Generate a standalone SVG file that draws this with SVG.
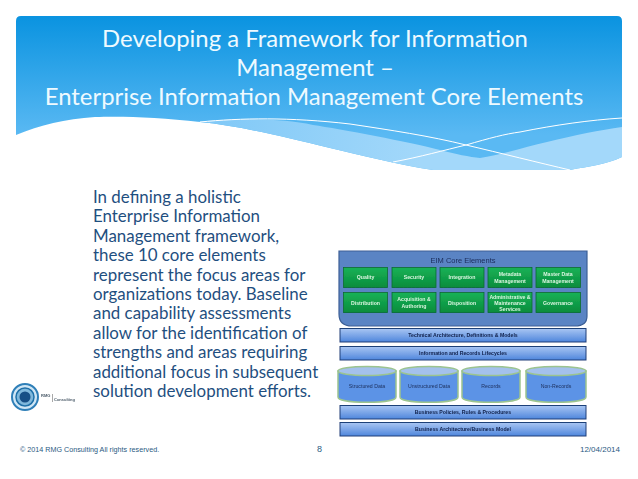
<svg xmlns="http://www.w3.org/2000/svg" width="638" height="479" viewBox="0 0 638 479">
<defs>
<linearGradient id="sky" gradientUnits="userSpaceOnUse" x1="0" y1="16" x2="0" y2="135"><stop offset="0" stop-color="#0a93e0"/><stop offset="1" stop-color="#5ab9f3"/></linearGradient>
<linearGradient id="wedge" gradientUnits="userSpaceOnUse" x1="200" y1="120" x2="420" y2="165"><stop offset="0" stop-color="#7fc8f7"/><stop offset="1" stop-color="#a3d8fa"/></linearGradient>
<linearGradient id="green" x1="0" y1="0" x2="0" y2="1"><stop offset="0" stop-color="#17b257"/><stop offset="1" stop-color="#0b8c3c"/></linearGradient>
<linearGradient id="bar" x1="0" y1="0" x2="0" y2="1"><stop offset="0" stop-color="#a9c6f3"/><stop offset="1" stop-color="#4f86dc"/></linearGradient>
<clipPath id="banner"><path d="M21 16H617Q622 16 622 21V157C605 165 590 166 570 170H433C400 165 360 155 330 148C280 136 240 126 200 122C160 117 120 116 95 117C65 119 40 125 16 135V21Q16 16 21 16Z"/></clipPath>
<filter id="soft" x="-5%" y="-5%" width="110%" height="110%"><feGaussianBlur stdDeviation="0.45"/></filter>
</defs>
<style>
.title{font-family:"Lato","Open Sans",sans-serif;font-size:23.9px;fill:#eefaff;text-anchor:middle}
.body{font-family:"Lato","Open Sans",sans-serif;font-size:16.9px;fill:#1f4f80}
.foot{font-family:"Liberation Sans",Arial,sans-serif;font-size:7.2px;fill:#2a5a82}
.g{fill:url(#green);stroke:#0a6b30;stroke-width:.8}
.gt{font-family:"Liberation Sans",Arial,sans-serif;font-size:5.2px;font-weight:bold;fill:#d9f5df;text-anchor:middle}
.b{fill:url(#bar);stroke:#1f3f78;stroke-width:1}
.bt{font-family:"Liberation Sans",Arial,sans-serif;font-size:5.2px;font-weight:bold;fill:#10204a;text-anchor:middle}
.cy{fill:#5c93e6;stroke:#9cc48f;stroke-width:1.5}
.ct{fill:#a4c1ec;stroke:#9cc48f;stroke-width:1.5}
.dt{font-family:"Liberation Sans",Arial,sans-serif;font-size:5.2px;fill:#1c2f5c;text-anchor:middle}
</style>
<rect width="638" height="479" fill="#fff"/>
<g id="banner-art" clip-path="url(#banner)">
<rect x="16" y="16" width="606" height="155" fill="url(#sky)"/>
<path d="M195 122C240 118 280 118 313 125C340 129 410 142 440 150C455 154 470 157 480 158C500 155 525 147 547 142C575 135 600 130 622 127V172H195Z" fill="url(#wedge)"/>
<path d="M200 122C240 118 290 117 350 124C390 130 430 136 466 145C500 153 540 163 570 170" fill="none" stroke="#fff" stroke-width="1"/>
<path d="M393 162C420 157 445 150 466 145C490 138 505 134 520 132C555 125 590 120 622 118" fill="none" stroke="#fff" stroke-width="1"/>
</g>
<text class="title" x="315" y="47">Developing a Framework for Information</text>
<text class="title" x="315" y="76">Management –</text>
<text class="title" x="314" y="105">Enterprise Information Management Core Elements</text>
<g id="body-text">
<text class="body" x="93" y="203">In defining a holistic</text>
<text class="body" x="93" y="222.4">Enterprise Information</text>
<text class="body" x="93" y="241.8">Management framework,</text>
<text class="body" x="93" y="261.2">these 10 core elements</text>
<text class="body" x="93" y="280.6">represent the focus areas for</text>
<text class="body" x="93" y="300">organizations today. Baseline</text>
<text class="body" x="93" y="319.4">and capability assessments</text>
<text class="body" x="93" y="338.8">allow for the identification of</text>
<text class="body" x="93" y="358.2">strengths and areas requiring</text>
<text class="body" x="93" y="377.6">additional focus in subsequent</text>
<text class="body" x="93" y="397">solution development efforts.</text>
</g>
<g id="diagram" filter="url(#soft)">
<g id="panel"><path d="M339 251H587V316Q587 326 575 326H352Q339 326 339 314Z" fill="#5a84c4" stroke="#3c5f96" stroke-width="1.2"/>
<text x="463" y="263" font-family="Liberation Sans,Arial,sans-serif" font-size="7.5" fill="#1b2c5a" text-anchor="middle">EIM Core Elements</text></g>
<g id="n-quality"><rect class="g" x="343.500" y="267.500" width="44" height="20"/><text class="gt" x="365.500" y="279">Quality</text></g>
<g id="n-security"><rect class="g" x="392" y="267.500" width="44" height="20"/><text class="gt" x="414" y="279">Security</text></g>
<g id="n-integration"><rect class="g" x="440" y="267.500" width="44" height="20"/><text class="gt" x="462" y="279">Integration</text></g>
<g id="n-metadata"><rect class="g" x="488" y="267.500" width="44" height="20"/><text class="gt" x="510" y="276">Metadata</text><text class="gt" x="510" y="283">Management</text></g>
<g id="n-master"><rect class="g" x="536" y="267.500" width="44.500" height="20"/><text class="gt" x="558" y="276">Master Data</text><text class="gt" x="558" y="283">Management</text></g>
<g id="n-distribution"><rect class="g" x="343.500" y="292.500" width="44" height="20"/><text class="gt" x="365.500" y="305">Distribution</text></g>
<g id="n-acquisition"><rect class="g" x="392" y="292.500" width="44" height="20"/><text class="gt" x="414" y="301">Acquisition &amp;</text><text class="gt" x="414" y="308">Authoring</text></g>
<g id="n-disposition"><rect class="g" x="440" y="292.500" width="44" height="20"/><text class="gt" x="462" y="305">Disposition</text></g>
<g id="n-admin"><rect class="g" x="488" y="292.500" width="44" height="20"/><text class="gt" x="510" y="299">Administrative &amp;</text><text class="gt" x="510" y="305">Maintenance</text><text class="gt" x="510" y="311">Services</text></g>
<g id="n-governance"><rect class="g" x="536" y="292.500" width="44.500" height="20"/><text class="gt" x="558" y="305">Governance</text></g>
<g id="n-technical"><rect class="b" x="340" y="328.500" width="246" height="13.500"/><text class="bt" x="463" y="337">Technical Architecture, Definitions &amp; Models</text></g>
<g id="n-lifecycles"><rect class="b" x="340" y="346.500" width="246" height="13.500"/><text class="bt" x="463" y="355">Information and Records Lifecycles</text></g>
<g id="n-structured"><path class="cy" d="M338 371V397C338 404 396 404 396 397V371Z"/><ellipse class="ct" cx="367" cy="371" rx="29" ry="4.500"/><text class="dt" x="367" y="388">Structured Data</text></g>
<g id="n-unstructured"><path class="cy" d="M400 371V397C400 404 458 404 458 397V371Z"/><ellipse class="ct" cx="429" cy="371" rx="29" ry="4.500"/><text class="dt" x="429" y="388">Unstructured Data</text></g>
<g id="n-records"><path class="cy" d="M462 371V397C462 404 520 404 520 397V371Z"/><ellipse class="ct" cx="491" cy="371" rx="29" ry="4.500"/><text class="dt" x="491" y="388">Records</text></g>
<g id="n-nonrecords"><path class="cy" d="M526 371V397C526 404 586 404 586 397V371Z"/><ellipse class="ct" cx="556" cy="371" rx="30" ry="4.500"/><text class="dt" x="556" y="388">Non-Records</text></g>
<g id="n-policies"><rect class="b" x="340" y="405.500" width="246" height="13.500"/><text class="bt" x="463" y="414">Business Policies, Rules &amp; Procedures</text></g>
<g id="n-architecture"><rect class="b" x="340" y="422.500" width="246" height="13.500"/><text class="bt" x="463" y="431">Business Architecture/Business Model</text></g>
</g>
<g id="logo" filter="url(#soft)">
<circle cx="25" cy="397" r="13" fill="#cfe6f5" stroke="#2f7fb8" stroke-width="2"/>
<circle cx="25" cy="397" r="9" fill="#7fb8dc" stroke="#1f6fa8" stroke-width="1.500"/>
<circle cx="25" cy="397" r="5.500" fill="#174f86"/>
<text x="41" y="397" font-family="Liberation Sans,Arial,sans-serif" font-size="4" font-weight="bold" fill="#4a5a68">RMG</text>
<path d="M52.500 394V402" stroke="#555" stroke-width=".5"/>
<text x="54" y="401" font-family="Liberation Sans,Arial,sans-serif" font-size="4" font-weight="bold" fill="#4a5a68">Consulting</text>
</g>
<g id="footer">
<text class="foot" x="20" y="452">© 2014 RMG Consulting All rights reserved.</text>
<text class="foot" x="317" y="452" style="font-size:9px">8</text>
<text class="foot" x="620" y="452" style="font-size:8px" text-anchor="end">12/04/2014</text>
</g>
</svg>
